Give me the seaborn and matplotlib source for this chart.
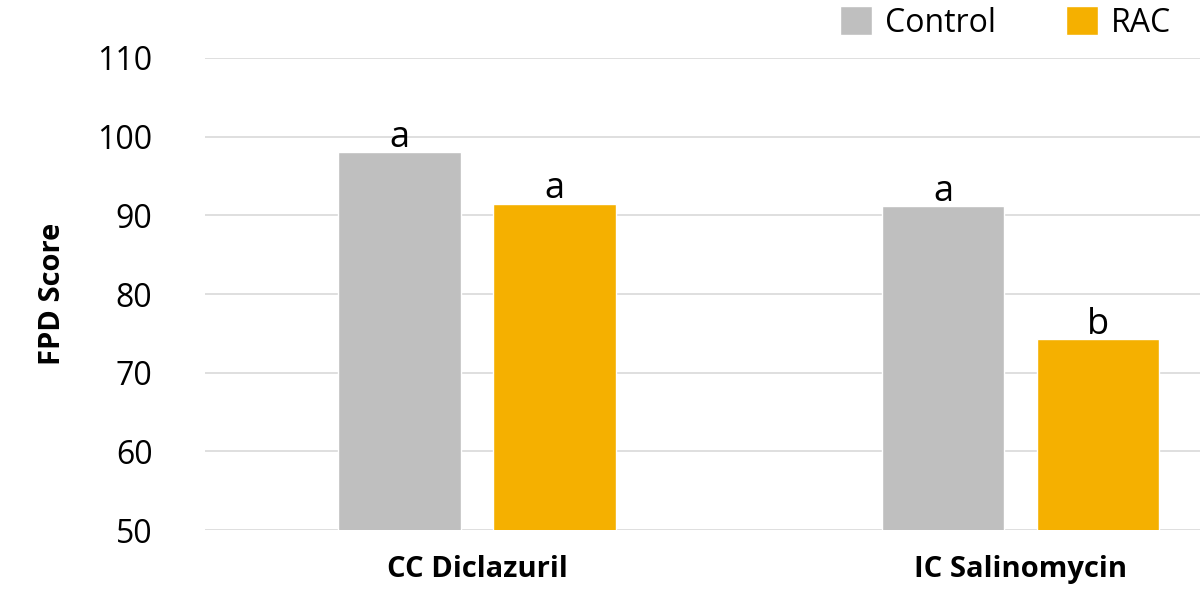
import pandas as pd
import matplotlib.pyplot as plt
import seaborn as sns

categories = ["CC Diclazuril", "IC Salinomycin"]
control = [98.0, 91.2]
rac = [91.5, 74.3]
labels_control = ["a", "a"]
labels_rac = ["a", "b"]

df = pd.DataFrame({
    "cat": categories * 2,
    "grp": ["Control"] * 2 + ["RAC"] * 2,
    "val": control + rac,
})

sns.set_style("white")
plt.rcParams["font.family"] = ["Open Sans", "DejaVu Sans"]
plt.rcParams["text.color"] = "black"
plt.rcParams["axes.labelcolor"] = "black"
plt.rcParams["xtick.color"] = "black"
plt.rcParams["ytick.color"] = "black"

fig = plt.figure(figsize=(12, 6.1), dpi=100)
ax = fig.add_axes([0.171, 0.131, 0.829, 0.774])
sns.barplot(data=df, x="cat", y="val", hue="grp", order=categories,
            hue_order=["Control", "RAC"], palette=["#bfbfbf", "#f5b000"],
            saturation=1, width=0.57, gap=0.21, ax=ax, zorder=3)

# letras de significancia
for bar_c, bar_r, lc, lr in zip(ax.patches[:2], ax.patches[2:4], labels_control, labels_rac):
    for b, t in ((bar_c, lc), (bar_r, lr)):
        ax.text(b.get_x() + b.get_width() / 2, b.get_height() - 0.5, t,
                ha="center", va="bottom", fontsize=26)

ax.set_ylim(50, 110)
ax.set_xlim(-0.5, 1.33)
ax.set_yticks(range(50, 111, 10))
ax.yaxis.grid(True, color="#d9d9d9", linewidth=1.2, zorder=0)
for s in ax.spines.values():
    s.set_visible(False)
ax.tick_params(axis="y", labelsize=23, length=0, pad=38)
ax.tick_params(axis="x", labelsize=21, length=0, pad=18)
for t in ax.get_xticklabels():
    t.set_fontweight("bold")
ax.set_xlabel("")
ax.set_ylabel("FPD Score", fontsize=21, fontweight="bold", labelpad=22)
ax.legend(loc="upper right", bbox_to_anchor=(1.0, 1.17), ncol=2, frameon=False,
          fontsize=23, handlelength=1, handleheight=1, columnspacing=2.2,
          handletextpad=0.4)

fig.savefig("out.png", dpi=100)
